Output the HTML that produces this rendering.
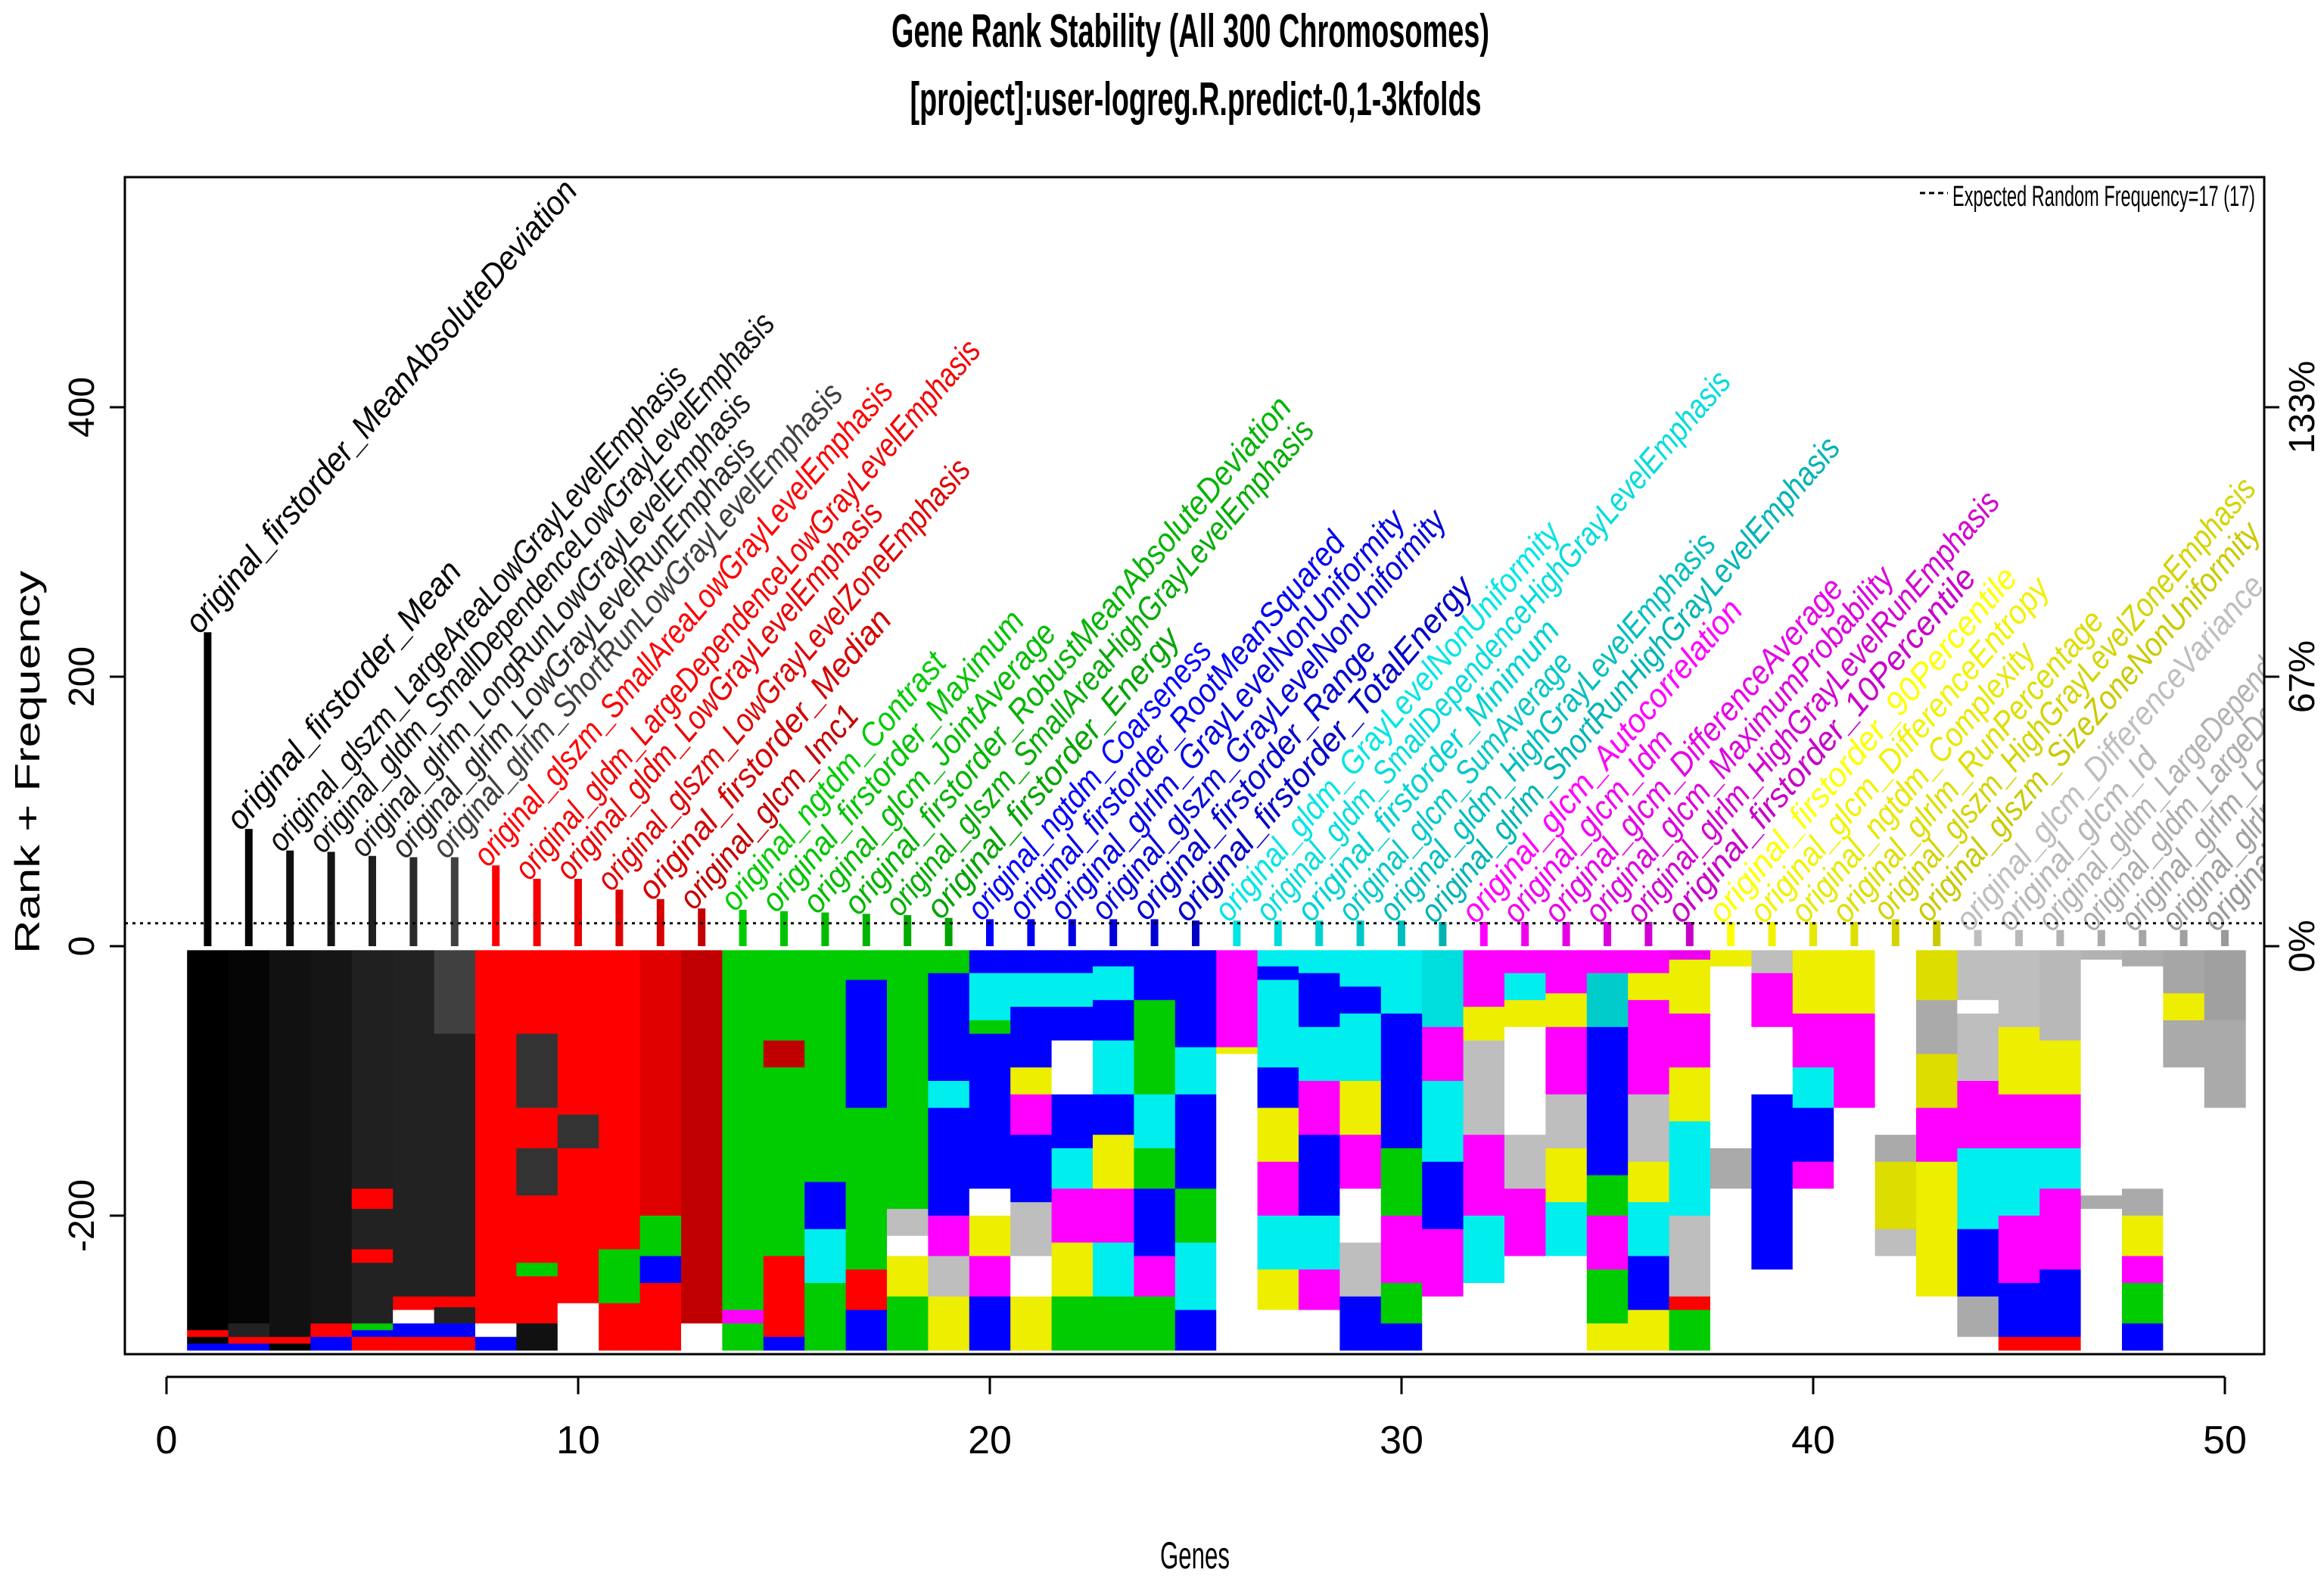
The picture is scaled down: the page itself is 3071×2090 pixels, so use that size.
<!DOCTYPE html>
<html><head><meta charset="utf-8"><style>
html,body{margin:0;padding:0;background:#fff;}
svg{display:block;}
</style></head><body>
<svg id="chart" xmlns="http://www.w3.org/2000/svg" width="3071" height="2090" viewBox="0 0 3071 2090">
<defs><clipPath id="plotclip"><rect x="165" y="234" width="2827" height="1555"/></clipPath></defs>
<rect x="0" y="0" width="3071" height="2090" fill="#fff"/>
<text x="1573" y="62" text-anchor="middle" font-family="'Liberation Sans Narrow','Liberation Sans',sans-serif" font-weight="bold" font-size="62" textLength="790" lengthAdjust="spacingAndGlyphs">Gene Rank Stability  (All 300 Chromosomes)</text>
<text x="1580" y="152" text-anchor="middle" font-family="'Liberation Sans Narrow','Liberation Sans',sans-serif" font-weight="bold" font-size="62" textLength="755" lengthAdjust="spacingAndGlyphs">[project]:user-logreg.R.predict-0,1-3kfolds</text>
<g id="heat"></g>
<g id="stems"></g>
<g id="labels" clip-path="url(#plotclip)"></g>
<line id="expline" stroke="#000" stroke-width="3" stroke-dasharray="4,6"/>
<rect x="165" y="234" width="2827" height="1555" fill="none" stroke="#000" stroke-width="3"/>
<g id="xaxis"></g>
<g id="yaxis"></g>
<g id="y2axis"></g>
<text x="1579" y="2072" text-anchor="middle" font-family="'Liberation Sans Narrow','Liberation Sans',sans-serif" font-size="50" textLength="92" lengthAdjust="spacingAndGlyphs">Genes</text>
<text transform="translate(52,1007) rotate(-90)" text-anchor="middle" font-family="'Liberation Sans',sans-serif" font-size="46" textLength="506" lengthAdjust="spacingAndGlyphs">Rank + Frequency</text>
<g>
<line x1="2537" y1="255" x2="2574" y2="255" stroke="#000" stroke-width="3" stroke-dasharray="7,5"/>
<text x="2580" y="272" font-family="'Liberation Sans Narrow','Liberation Sans',sans-serif" font-size="38" textLength="400" lengthAdjust="spacingAndGlyphs">Expected Random Frequency=17 (17)</text>
</g>
</svg>
<script>
const geneNames=["original_firstorder_MeanAbsoluteDeviation","original_firstorder_Mean","original_glszm_LargeAreaLowGrayLevelEmphasis","original_gldm_SmallDependenceLowGrayLevelEmphasis","original_glrlm_LongRunLowGrayLevelEmphasis","original_glrlm_LowGrayLevelRunEmphasis","original_glrlm_ShortRunLowGrayLevelEmphasis","original_glszm_SmallAreaLowGrayLevelEmphasis","original_gldm_LargeDependenceLowGrayLevelEmphasis","original_gldm_LowGrayLevelEmphasis","original_glszm_LowGrayLevelZoneEmphasis","original_firstorder_Median","original_glcm_Imc1","original_ngtdm_Contrast","original_firstorder_Maximum","original_glcm_JointAverage","original_firstorder_RobustMeanAbsoluteDeviation","original_glszm_SmallAreaHighGrayLevelEmphasis","original_firstorder_Energy","original_ngtdm_Coarseness","original_firstorder_RootMeanSquared","original_glrlm_GrayLevelNonUniformity","original_glszm_GrayLevelNonUniformity","original_firstorder_Range","original_firstorder_TotalEnergy","original_gldm_GrayLevelNonUniformity","original_gldm_SmallDependenceHighGrayLevelEmphasis","original_firstorder_Minimum","original_glcm_SumAverage","original_gldm_HighGrayLevelEmphasis","original_glrlm_ShortRunHighGrayLevelEmphasis","original_glcm_Autocorrelation","original_glcm_Idm","original_glcm_DifferenceAverage","original_glcm_MaximumProbability","original_glrlm_HighGrayLevelRunEmphasis","original_firstorder_10Percentile","original_firstorder_90Percentile","original_glcm_DifferenceEntropy","original_ngtdm_Complexity","original_glrlm_RunPercentage","original_glszm_HighGrayLevelZoneEmphasis","original_glszm_SizeZoneNonUniformity","original_glcm_DifferenceVariance","original_glcm_Id","original_gldm_LargeDependenceEmphasis","original_gldm_LargeDependenceHighGrayLevelEmphasis","original_glrlm_LongRunEmphasis","original_glrlm_LongRunHighGrayLevelEmphasis","original_glrlm_RunEntropy"];
const frequencies=[233,87,71,70,67,66,66,60,50,50,42,35,28,27,26,25,24,23,21,20,20,20,20,20,19,19,19,19,19,19,18,18,18,18,18,18,18,18,18,18,18,20,19,12,12,12,12,12,12,12];
const stemColors=["#000000","#050505","#0f0f0f","#151515","#1f1f1f","#2a2a2a","#404040","#ff0000","#f40000","#ea0000","#e00000","#d40000","#c40000","#00cc00","#00c400","#00bc00","#00b400","#00ac00","#00a400","#0000ff","#0000f0","#0000e6","#0000dc","#0000d2","#0000c8","#00e5e5","#00dcdc","#00d2d2","#00c8c8","#00bebe","#00b4b4","#ff00ff","#f000f0","#e600e6","#dc00dc","#d200d2","#c800c8","#ffff00","#f2f200","#e8e800","#dede00","#d4d400","#caca00","#bebebe","#b8b8b8","#b2b2b2","#acacac","#a6a6a6","#a0a0a0","#9a9a9a"];
const xTicks=[0,10,20,30,40,50];
const yTicks=[-200,0,200,400];
const pctTicks=[0,200,400];
const pctLabels=["0%","67%","133%"];
const expectedFreq=17;
const heatBands=[
"#000:3-285,#f00:285-290,#000:290-295,#00f:295-300",
"#050505:3-280,#222:280-290,#f00:290-295,#00f:295-300",
"#111:3-290,#f00:290-295,#000:295-300",
"#151515:3-280,#f00:280-290,#00f:290-300",
"#202020:3-180,#f00:180-195,#222:195-225,#f00:225-235,#222:235-280,#0c0:280-285,#00f:285-290,#f00:290-300",
"#222:3-260,#f00:260-270,#fff:270-280,#00f:280-290,#f00:290-300",
"#404040:3-65,#222:65-260,#f00:260-268,#222:268-280,#00f:280-290,#f00:290-300",
"#f00:3-280,#fff:280-290,#00f:290-300",
"#f00:3-65,#333:65-120,#f00:120-150,#333:150-185,#f00:185-235,#0c0:235-245,#f00:245-280,#111:280-300",
"#f00:3-125,#333:125-150,#f00:150-265,#fff:265-300",
"#f00:3-225,#0c0:225-265,#f00:265-300",
"#e00000:3-200,#0c0:200-230,#00f:230-250,#f00:250-300",
"#c00000:3-280,#fff:280-300",
"#0c0:3-270,#f0f:270-280,#0c0:280-300",
"#0c0:3-70,#c00000:70-90,#0c0:90-230,#f00:230-290,#00f:290-300",
"#0c0:3-175,#00f:175-210,#0ee:210-250,#0c0:250-300",
"#0c0:3-25,#00f:25-120,#0c0:120-240,#f00:240-270,#00f:270-300",
"#0c0:3-195,#bebebe:195-215,#fff:215-230,#ee0:230-260,#0c0:260-300",
"#0c0:3-20,#00f:20-100,#0ee:100-120,#00f:120-200,#f0f:200-230,#bebebe:230-260,#ee0:260-300",
"#00f:3-20,#0ee:20-55,#0c0:55-65,#00f:65-180,#fff:180-200,#ee0:200-230,#f0f:230-260,#00f:260-300",
"#00f:3-20,#0ee:20-45,#00f:45-90,#ee0:90-110,#f0f:110-140,#00f:140-190,#bebebe:190-230,#fff:230-260,#ee0:260-300",
"#00f:3-20,#0ee:20-45,#00f:45-70,#fff:70-110,#00f:110-150,#0ee:150-180,#f0f:180-220,#ee0:220-260,#0c0:260-300",
"#00f:3-15,#0ee:15-40,#00f:40-70,#0ee:70-110,#00f:110-140,#ee0:140-180,#f0f:180-220,#0ee:220-260,#0c0:260-300",
"#00f:3-40,#0c0:40-110,#0ee:110-150,#0c0:150-180,#00f:180-230,#f0f:230-260,#0c0:260-300",
"#00f:3-75,#0ee:75-110,#00f:110-180,#0c0:180-220,#0ee:220-270,#00f:270-300",
"#f0f:3-75,#ee0:75-80,#fff:80-300",
"#0ee:3-15,#00f:15-25,#0ee:25-90,#00f:90-120,#ee0:120-160,#f0f:160-200,#0ee:200-240,#ee0:240-270,#fff:270-300",
"#0ee:3-20,#00f:20-60,#0ee:60-100,#f0f:100-140,#00f:140-200,#0ee:200-240,#f0f:240-270,#fff:270-300",
"#0ee:3-30,#00f:30-50,#0ee:50-100,#ee0:100-140,#f0f:140-180,#fff:180-220,#bebebe:220-260,#00f:260-300",
"#0ee:3-50,#00f:50-150,#0c0:150-200,#f0f:200-250,#0c0:250-280,#00f:280-300",
"#0dd:3-60,#f0f:60-100,#0ee:100-160,#00f:160-210,#f0f:210-260,#fff:260-300",
"#f0f:3-45,#ee0:45-70,#bebebe:70-140,#f0f:140-200,#0ee:200-250,#fff:250-300",
"#f0f:3-20,#0ee:20-40,#ee0:40-60,#fff:60-140,#bebebe:140-180,#f0f:180-230,#fff:230-300",
"#f0f:3-35,#ee0:35-60,#f0f:60-110,#bebebe:110-150,#ee0:150-190,#0ee:190-230,#fff:230-300",
"#f0f:3-20,#0cc:20-60,#00f:60-170,#0c0:170-200,#f0f:200-240,#0c0:240-280,#ee0:280-300",
"#f0f:3-20,#ee0:20-40,#f0f:40-110,#bebebe:110-160,#ee0:160-190,#0ee:190-230,#00f:230-270,#ee0:270-300",
"#e0e:3-10,#ee0:10-50,#f0f:50-90,#ee0:90-130,#0ee:130-200,#bebebe:200-260,#f00:260-270,#0c0:270-300",
"#ee0:3-15,#fff:15-150,#aaa:150-180,#fff:180-300",
"#bebebe:3-20,#f0f:20-60,#fff:60-110,#00f:110-240,#fff:240-300",
"#ee0:3-50,#f0f:50-90,#0ee:90-120,#00f:120-160,#f0f:160-180,#fff:180-300",
"#ee0:3-50,#f0f:50-120,#fff:120-300",
"#fff:3-140,#aaa:140-160,#dd0:160-210,#bebebe:210-230,#fff:230-300",
"#dd0:3-40,#aaa:40-80,#dd0:80-120,#f0f:120-160,#ee0:160-260,#fff:260-300",
"#bebebe:3-40,#fff:40-50,#bebebe:50-100,#f0f:100-150,#0ee:150-210,#00f:210-260,#aaa:260-290,#fff:290-300",
"#bebebe:3-60,#ee0:60-110,#f0f:110-150,#0ee:150-200,#f0f:200-250,#00f:250-290,#f00:290-300",
"#b8b8b8:3-70,#ee0:70-110,#f0f:110-150,#0ee:150-180,#f0f:180-240,#00f:240-290,#f00:290-300",
"#b2b2b2:3-10,#fff:10-185,#aaa:185-195,#fff:195-300",
"#acacac:3-15,#fff:15-180,#aaa:180-200,#ee0:200-230,#f0f:230-250,#0c0:250-280,#00f:280-300",
"#a6a6a6:3-35,#ee0:35-55,#aaa:55-90,#fff:90-300",
"#a0a0a0:3-55,#aaa:55-120,#fff:120-300"
];
const NS="http://www.w3.org/2000/svg";
function xS(v){return 220+v*54.4;}
function yS(v){return 1250-v*1.78;}
function mk(tag,attrs,parent){const e=document.createElementNS(NS,tag);for(const k in attrs)e.setAttribute(k,attrs[k]);parent.appendChild(e);return e;}
const heat=document.getElementById('heat');
heatBands.forEach((spec,i)=>{
  const g=i+1;
  spec.split(',').forEach(b=>{
    const [c,r]=b.split(':');const [s,e]=r.split('-').map(Number);
    const rc=mk('rect',{x:xS(g-0.5),y:yS(-s),width:xS(g+0.5)-xS(g-0.5)+0.5,height:yS(-e)-yS(-s)+0.3,fill:c},heat);
    
    
  });
});
const stems=document.getElementById('stems'),labels=document.getElementById('labels');
frequencies.forEach((f,i)=>{
  const g=i+1;
  const ln=mk('line',{x1:xS(g),x2:xS(g),y1:yS(0),y2:yS(f),stroke:stemColors[i],'stroke-width':10},stems);
  
  
  const name=geneNames[i];
  const t=mk('text',{transform:'translate('+(xS(g)-10)+','+(yS(f)+4)+') rotate(-49.5)',fill:stemColors[i],'font-family':"'Liberation Sans',sans-serif",'font-style':'italic','font-size':44,textLength:name.length*18.8,lengthAdjust:'spacingAndGlyphs'},labels);
  t.textContent=name;
  
  
});
const ex=document.getElementById('expline');
ex.setAttribute('x1',165);ex.setAttribute('x2',2992);ex.setAttribute('y1',yS(expectedFreq));ex.setAttribute('y2',yS(expectedFreq));
const xa=document.getElementById('xaxis');
mk('line',{x1:xS(xTicks[0]),x2:xS(xTicks[xTicks.length-1]),y1:1819,y2:1819,stroke:'#000','stroke-width':3},xa);
xTicks.forEach(v=>{
  mk('line',{x1:xS(v),x2:xS(v),y1:1819,y2:1842,stroke:'#000','stroke-width':3},xa);
  const t=mk('text',{x:xS(v),y:1920,'text-anchor':'middle','font-family':"'Liberation Sans Narrow','Liberation Sans',sans-serif",'font-size':52},xa);
  t.textContent=v;
  
  
});
const ya=document.getElementById('yaxis');
yTicks.forEach(v=>{
  mk('line',{x1:145,x2:165,y1:yS(v),y2:yS(v),stroke:'#000','stroke-width':3},ya);
  const t=mk('text',{transform:'translate(124,'+yS(v)+') rotate(-90)','text-anchor':'middle','font-family':"'Liberation Sans',sans-serif",'font-size':48},ya);
  t.textContent=v;
  
  
});
const y2=document.getElementById('y2axis');
pctTicks.forEach((v,i)=>{
  mk('line',{x1:2992,x2:3012,y1:yS(v),y2:yS(v),stroke:'#000','stroke-width':3},y2);
  const t=mk('text',{transform:'translate(3058,'+yS(v)+') rotate(-90)','text-anchor':'middle','font-family':"'Liberation Sans',sans-serif",'font-size':48},y2);
  t.textContent=pctLabels[i];
  
  
});
</script>
</body></html>
